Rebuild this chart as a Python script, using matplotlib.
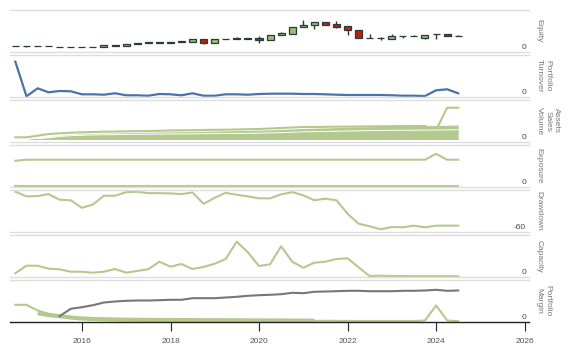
import numpy as np
import pandas as pd
import matplotlib
matplotlib.use("Agg")
import matplotlib.pyplot as plt
import matplotlib.dates as mdates

nan = np.nan

# quarterly observations
dates = pd.date_range("2014-07-01", periods=41, freq="QS")

# equity candles
eq_open = [57, 57, 57, 57, 50, 50, 50, 47, 47, 63, 57, 83, 93, 93, 93, 103, 103, 127, 93, 130,
           133, 133, 137, 117, 167, 183, 247, 267, 300, 280, 260, 217, 137, 137, 133, 160, 157, 143, 177, 177, 157]
eq_close = [57, 57, 57, 57, 50, 50, 50, 47, 67, 63, 80, 83, 93, 93, 93, 103, 127, 93, 127, 130,
            133, 133, 117, 170, 190, 247, 270, 300, 273, 253, 217, 137, 137, 137, 160, 160, 157, 170, 177, 160, 157]
eq_high = [57, 62, 57, 57, 50, 50, 50, 47, 67, 63, 80, 83, 93, 93, 93, 103, 127, 127, 127, 130,
           147, 133, 160, 170, 200, 247, 320, 300, 300, 310, 260, 217, 180, 150, 180, 160, 170, 170, 177, 177, 170]
eq_low = [57, 53, 57, 57, 50, 50, 50, 47, 47, 63, 57, 83, 93, 93, 93, 103, 103, 83, 93, 130,
          133, 133, 93, 117, 167, 183, 247, 233, 273, 243, 173, 137, 137, 123, 133, 143, 157, 133, 133, 160, 157]

turnover = [35.3, 0.7, 8.7, 4.7, 6.0, 5.7, 2.7, 2.7, 2.3, 3.7, 1.7, 1.7, 1.3, 3.0, 2.7, 1.7, 3.7, 1.3, 1.3, 2.7,
            2.7, 2.3, 3.0, 3.3, 3.3, 3.3, 3.0, 3.0, 2.7, 2.3, 2.0, 2.0, 2.0, 2.0, 1.7, 1.3, 1.3, 1.0, 6.7, 7.7, 3.7]

sales_total = [2.2, 2.2, 3.8, 5.5, 6.2, 6.8, 7.2, 7.5, 7.8, 8.0, 8.2, 8.3, 8.5, 8.7, 9.0, 9.2, 9.3, 9.5, 9.7, 9.8,
               10.0, 10.3, 10.5, 11.0, 11.5, 12.0, 12.5, 12.5, 12.7, 12.8, 12.9, 13.0, 13.1, 13.2, 13.3, 13.4, 13.5,
               13.5, 9.5, 31.8, 31.8]
sales_a = [0, 0, 0.8, 1.7, 3.0, 3.8, 4.2, 4.6, 4.8, 4.9, 5.1, 5.2, 5.3, 5.4, 5.5, 5.6, 5.7, 5.8, 5.9, 6.0,
           6.1, 6.2, 6.4, 6.6, 6.9, 7.3, 7.7, 7.9, 8.1, 8.3, 8.5, 8.7, 8.9, 9.0, 9.1, 9.2, 9.3, 9.4, 9.5, 9.6, 9.8]
sales_b = [0, 0, 0.7, 0.8, 1.0, 1.2, 1.3, 1.4, 1.5, 1.6, 1.7, 1.8, 1.9, 2.0, 2.1, 2.2, 2.3, 2.4, 2.5, 2.6,
           2.7, 2.8, 2.9, 3.0, 3.1, 3.2, 3.3, 3.4, 3.5, 3.6, 3.7, 3.8, 3.9, 4.0, 4.1, 4.2, 4.3, 4.4, 4.5, 4.6, 4.7]

exposure_long = [96, 100, 100, 100, 100, 100, 100, 100, 100, 100, 100, 100, 100, 100, 100, 100, 100, 100, 100, 100,
                 100, 100, 100, 100, 100, 100, 100, 100, 100, 100, 100, 100, 100, 100, 100, 100, 100, 100, 122, 100, 100]
exposure_short = [0] * 41

drawdown = [0, -7, -6.5, -3.6, -12, -12.8, -24, -19, -6, -6, -0.7, 0, -2.2, -2.2, -2.6, -3.6, -1.2, -18.1, -9, -1.7,
            -4.6, -7, -9.9, -9.9, -4, -0.7, -5.5, -12.8, -10.4, -12.8, -33, -47.6, -51.5, -56, -52.6, -53, -50.6, -53,
            -50.6, -50.6, -50.6]

capacity = [3.2, 10.8, 10.8, 7.8, 7.2, 4.8, 4.8, 3.8, 4.8, 7.5, 3.8, 5.5, 7.2, 14.8, 9.8, 12.5, 7.5, 9.5, 12.8, 17.5,
            34.8, 24.2, 10.5, 12.2, 30.2, 14.8, 8.8, 13.8, 14.8, 17.5, 18.2, 9.2, 0.5, 0.8, 0.5, 0.4, 0.3, 0.3, 0.3, 0.3, 0.3]

margin_a = [17.2, 17.2, 11.5, 8.2, 5.8, 4.2, 3.2, 3.0, 2.8, 2.6, 2.5, 2.4, 2.3, 2.2, 2.1, 2.0, 2.0, 1.9, 1.8, 1.8,
            1.7, 1.6, 1.5, 1.5, 1.4, 1.4, 1.3, 1.2, 1.2, 1.1, 1.1, 1.0, 1.0, 1.0, 1.0, 1.0, 1.0, 1.5, 16.5, 1.5, 0.8]
margin_b = [nan, nan, 8.8, 7.0, 5.8, 4.5, 3.5, 3.0, 2.7, 2.5, 2.3, 2.2, 2.1, 2.0, 2.0, 1.9, 1.9, 1.8, 1.8, 1.7,
            1.7, 1.6, 1.6, 1.5, 1.5, 1.4, 1.4, 1.3, nan, nan, nan, nan, nan, nan, nan, nan, nan, nan, nan, nan, nan]
margin_c = [nan, nan, nan, nan, 5.8, 13.2, 14.8, 16.8, 19.5, 20.5, 21.2, 21.5, 21.5, 21.8, 22.2, 22.2, 23.8, 23.8, 23.8, 24.5,
            25.2, 26.2, 26.8, 27.2, 27.8, 29.2, 28.8, 30.2, 30.5, 30.8, 31.2, 31.2, 30.8, 30.8, 30.8, 31.2, 31.2, 31.5, 32.2, 31.2, 31.5]

panel_names = ["Equity", "Portfolio\nTurnover", "Assets\nSales\nVolume", "Exposure", "Drawdown", "Capacity",
               "Portfolio\nMargin"]
panel_floor = [0, 0, 0, 0, -60, 0, 0]

GREEN = "#b3c98e"
BLUE = "#4a73a8"
GREY = "#777777"
DARK = "#2f3838"

plt.rcParams["font.family"] = ["Liberation Sans", "DejaVu Sans"]

fig, axes = plt.subplots(7, 1, sharex=True, figsize=(5.8, 3.6), dpi=100,
                         gridspec_kw=dict(hspace=3 / 42))
fig.subplots_adjust(left=10 / 580, right=529 / 580, top=1 - 10 / 360, bottom=1 - 322 / 360)
ax1, ax2, ax3, ax4, ax5, ax6, ax7 = axes

# equity candles
o = np.array(eq_open, float)
c = np.array(eq_close, float)
body_lo = np.minimum(o, c)
body_h = np.maximum(np.abs(c - o), 4)
body_col = np.where(c > o, "#8fc477", np.where(c < o, "#b8230f", DARK))
ax1.vlines(dates, eq_low, eq_high, color=DARK, lw=1, zorder=1)
ax1.bar(dates, body_h, bottom=body_lo, width=58, color=body_col, edgecolor=DARK, lw=0.9, zorder=2)
ax1.set_ylim(0, 420)

ax2.plot(dates, turnover, color=BLUE, lw=1.6)
ax2.set_ylim(0, 42)

# sales volume: total line under a two-layer stacked area
lower = np.array(sales_a)
upper = lower + np.array(sales_b)
ax3.plot(dates, sales_total, color=GREEN, lw=1.5, zorder=1)
ax3.fill_between(dates, 0, upper, color=GREEN, lw=0, zorder=2)
ax3.plot(dates[2:], lower[2:], color="white", lw=0.7, zorder=3)
ax3.set_ylim(-2.5, 39.5)

ax4.plot(dates, exposure_long, color=GREEN, lw=1.5)
ax4.plot(dates, exposure_short, color=GREEN, lw=1.5)
ax4.set_ylim(-4, 156)

ax5.plot(dates, drawdown, color=GREEN, lw=1.5)
ax5.set_ylim(-60, 2.5)

ax6.plot(dates, capacity, color=GREEN, lw=1.5)
ax6.set_ylim(-0.5, 41.5)

ax7.plot(dates, margin_b, color=GREEN, lw=3, solid_capstyle="butt")
ax7.plot(dates, margin_a, color=GREEN, lw=1.5)
ax7.plot(dates, margin_c, color=GREY, lw=1.5)
ax7.set_ylim(0, 42)

for ax, name, floor in zip(axes, panel_names, panel_floor):
    for side in ["left", "right"]:
        ax.spines[side].set_visible(False)
    for side in ["top", "bottom"]:
        ax.spines[side].set_color("#dddddd")
        ax.spines[side].set_linewidth(1)
    ax.set_yticks([])
    ax.tick_params(axis="x", bottom=False, labelbottom=False)
    ax.text(0.994, 0.035, f"{floor}", transform=ax.transAxes, ha="right", va="bottom",
            fontsize=6, color="#444444")
    ax.yaxis.set_label_position("right")
    ax.set_ylabel(name, rotation=270, fontsize=6, color="#777777", ha="center", va="bottom",
                  multialignment="center", linespacing=1.35)
    ax.yaxis.set_label_coords(1.0125, 0.5)

ax7.spines["bottom"].set_color("#222222")
ax7.tick_params(axis="x", bottom=True, labelbottom=True, length=6.5, width=0.8, color="#222222",
                labelsize=6, labelcolor="#555555", pad=5)
ax7.xaxis.set_major_locator(mdates.YearLocator(2))
ax7.xaxis.set_major_formatter(mdates.DateFormatter("%Y"))
ax7.set_xlim(pd.Timestamp("2014-05-18"), pd.Timestamp("2026-02-05"))

fig.savefig("out.png", dpi=100)
